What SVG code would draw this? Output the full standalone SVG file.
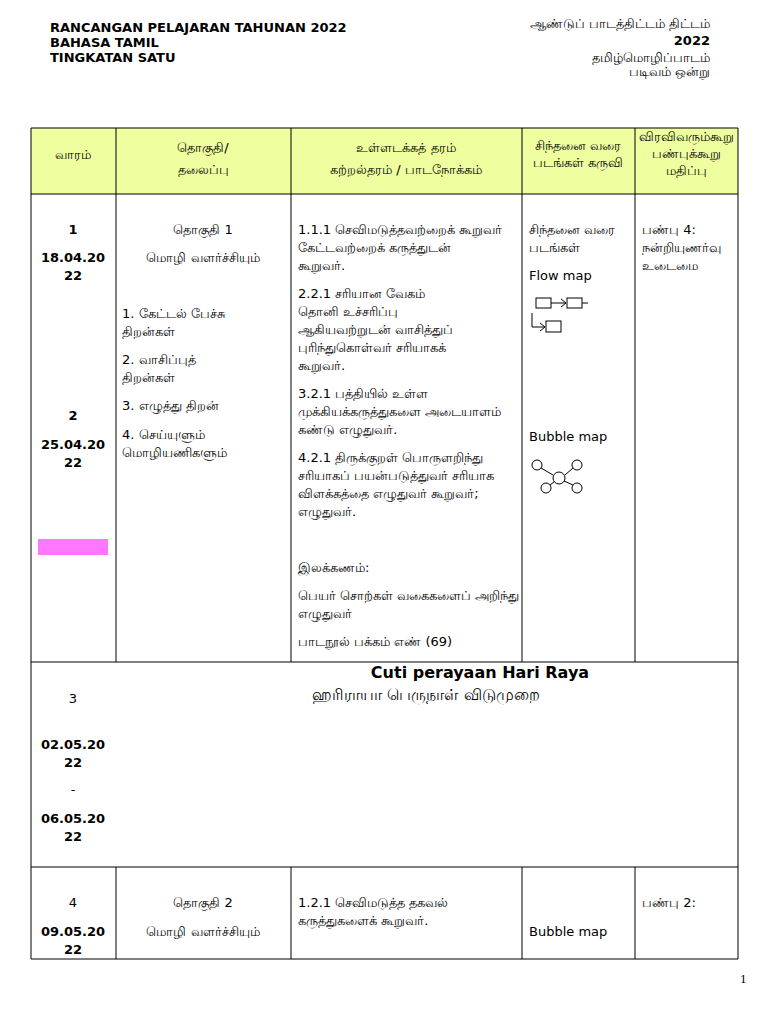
<svg xmlns="http://www.w3.org/2000/svg" width="768" height="1024" viewBox="0 0 768 1024">
<style>
text{font-family:"DejaVu Sans","Noto Sans",sans-serif;font-size:13px;fill:#000}
.b{font-weight:bold}
.m{text-anchor:middle}
.e{text-anchor:end}
.ln{stroke:#000;stroke-width:1;fill:none}
</style>
<rect width="768" height="1024" fill="#fff"/>
<g id="header-left">
<text x="50" y="32" class="b">RANCANGAN PELAJARAN TAHUNAN 2022</text>
<text x="50" y="47" class="b">BAHASA TAMIL</text>
<text x="50" y="62" class="b">TINGKATAN SATU</text>
</g>
<g id="header-right">
<text x="710" y="28" class="e">ஆண்டுப் பாடத்திட்டம் திட்டம்</text>
<text x="710" y="45" class="e b">2022</text>
<text x="710" y="62" class="e">தமிழ்மொழிப்பாடம்</text>
<text x="710" y="76" class="e">படிவம் ஒன்று</text>
</g>
<g id="table">
<rect x="31" y="128" width="707" height="66" fill="#efffa0"/>
<path class="ln" d="M31 128H738V959H31Z M31 194H738 M31 662H738 M31 867H738 M116 128V662 M291 128V662 M522 128V662 M635 128V662 M116 867V959 M291 867V959 M522 867V959 M635 867V959"/>
</g>
<g id="headers">
<text x="73" y="159" class="m">வாரம்</text>
<text x="203" y="152" class="m">தொகுதி/</text>
<text x="203" y="174" class="m">தலைப்பு</text>
<text x="406" y="152" class="m">உள்ளடக்கத் தரம்</text>
<text x="406" y="174" class="m">கற்றல்தரம் / பாடநோக்கம்</text>
<text x="578" y="150" class="m">சிந்தனை வரை</text>
<text x="578" y="167" class="m">படங்கள் கருவி</text>
<text x="686" y="141" class="m">விரவிவரும்கூறு</text>
<text x="686" y="158" class="m">பண்புக்கூறு</text>
<text x="686" y="175" class="m">மதிப்பு</text>
</g>
<g id="row1">
<text x="73" y="234" class="m b">1</text>
<text x="73" y="262" class="m b">18.04.20</text>
<text x="73" y="280" class="m b">22</text>
<text x="73" y="420" class="m b">2</text>
<text x="73" y="449" class="m b">25.04.20</text>
<text x="73" y="467" class="m b">22</text>
<rect x="38" y="539" width="70" height="16" fill="#ff77ff"/>
<text x="203" y="234" class="m">தொகுதி 1</text>
<text x="203" y="262" class="m">மொழி வளர்ச்சியும்</text>
<text x="122" y="318">1. கேட்டல் பேச்சு</text>
<text x="122" y="336">திறன்கள்</text>
<text x="122" y="364">2. வாசிப்புத்</text>
<text x="122" y="382">திறன்கள்</text>
<text x="122" y="410">3. எழுத்து திறன்</text>
<text x="122" y="439">4. செய்யுளும்</text>
<text x="122" y="457">மொழியணிகளும்</text>
<text x="298" y="234">1.1.1 செவிமடுத்தவற்றைக் கூறுவர்</text>
<text x="298" y="252">கேட்டவற்றைக் கருத்துடன்</text>
<text x="298" y="270">கூறுவர்.</text>
<text x="298" y="298">2.2.1 சரியான வேகம்</text>
<text x="298" y="316">தொனி உச்சரிப்பு</text>
<text x="298" y="334">ஆகியவற்றுடன் வாசித்துப்</text>
<text x="298" y="352">புரிந்துகொள்வர் சரியாகக்</text>
<text x="298" y="370">கூறுவர்.</text>
<text x="298" y="398">3.2.1 பத்தியில் உள்ள</text>
<text x="298" y="416">முக்கியக்கருத்துகளை அடையாளம்</text>
<text x="298" y="434">கண்டு எழுதுவர்.</text>
<text x="298" y="462">4.2.1 திருக்குறள் பொருளறிந்து</text>
<text x="298" y="480">சரியாகப் பயன்படுத்துவர் சரியாக</text>
<text x="298" y="498">விளக்கத்தை எழுதுவர் கூறுவர்;</text>
<text x="298" y="516">எழுதுவர்.</text>
<text x="298" y="572">இலக்கணம்:</text>
<text x="298" y="600">பெயர் சொற்கள் வகைகளைப் அறிந்து</text>
<text x="298" y="618">எழுதுவர்</text>
<text x="298" y="646">பாடநூல் பக்கம் எண் (69)</text>
<text x="529" y="234">சிந்தனை வரை</text>
<text x="529" y="252">படங்கள்</text>
<text x="529" y="280">Flow map</text>
<text x="529" y="441">Bubble map</text>
<text x="642" y="234">பண்பு 4:</text>
<text x="642" y="252">நன்றியுணர்வு</text>
<text x="642" y="270">உடைமை</text>
</g>
<g id="icons" class="ln">
<rect x="536" y="298" width="15" height="10"/>
<path d="M551 303H566 M561 299L566 303L561 307"/>
<rect x="567" y="298" width="15" height="10"/>
<path d="M582 303H588"/>
<path d="M532 313V327H545 M540 323L545 327L540 331"/>
<rect x="546" y="321" width="15" height="11"/>
<circle cx="559" cy="478" r="6"/>
<circle cx="537" cy="465" r="5"/>
<circle cx="577" cy="465" r="5"/>
<circle cx="546" cy="488" r="5"/>
<circle cx="577" cy="488" r="5"/>
<path d="M541 468L553 475 M573 468L565 475 M550 485L554 482 M573 485L564 481"/>
</g>
<g id="row2">
<text x="73" y="703" class="m">3</text>
<text x="73" y="749" class="m b">02.05.20</text>
<text x="73" y="767" class="m b">22</text>
<text x="73" y="794" class="m">-</text>
<text x="73" y="823" class="m b">06.05.20</text>
<text x="73" y="841" class="m b">22</text>
<text x="480" y="678" class="m" style="font-size:16px;font-weight:bold">Cuti perayaan Hari Raya</text>
<text x="426" y="700" class="m" style="font-size:16px">ஹரிராயா பெருநாள் விடுமுறை</text>
</g>
<g id="row3">
<text x="73" y="907" class="m">4</text>
<text x="73" y="936" class="m b">09.05.20</text>
<text x="73" y="954" class="m b">22</text>
<text x="203" y="907" class="m">தொகுதி 2</text>
<text x="203" y="936" class="m">மொழி வளர்ச்சியும்</text>
<text x="298" y="907">1.2.1 செவிமடுத்த தகவல்</text>
<text x="298" y="925">கருத்துகளைக் கூறுவர்.</text>
<text x="529" y="936">Bubble map</text>
<text x="642" y="907">பண்பு 2:</text>
</g>
<text x="740" y="983" style="font-family:'Liberation Serif',serif;font-size:13px">1</text>
</svg>
